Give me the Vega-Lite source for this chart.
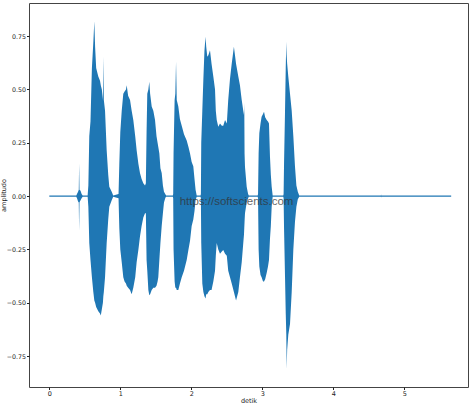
{
"$schema": "https://vega.github.io/schema/vega-lite/v6.json",
"width": 439, "height": 384,
"autosize": {"type": "none"},
"padding": {"left": 29, "top": 3, "right": 6, "bottom": 19},
"config": {"view": {"stroke": "#444", "strokeWidth": 1}, "font": "DejaVu Sans"},
"layer": [
{
"data": {"values": [
{"t":0,"hi":0.003,"lo":-0.003},{"t":0.38,"hi":0.003,"lo":-0.003},{"t":0.39,"hi":0.01,"lo":-0.01},{"t":0.405,"hi":0.02,"lo":-0.025},{"t":0.415,"hi":0.03,"lo":-0.03},{"t":0.42,"hi":0.153,"lo":-0.16},{"t":0.425,"hi":0.03,"lo":-0.03},{"t":0.44,"hi":0.025,"lo":-0.02},{"t":0.455,"hi":0.01,"lo":-0.01},{"t":0.47,"hi":0.003,"lo":-0.003},
{"t":0.54,"hi":0.003,"lo":-0.003},{"t":0.55,"hi":0.05,"lo":-0.05},{"t":0.563,"hi":0.28,"lo":-0.22},{"t":0.58,"hi":0.35,"lo":-0.30},{"t":0.60,"hi":0.60,"lo":-0.38},{"t":0.62,"hi":0.72,"lo":-0.45},{"t":0.634,"hi":0.82,"lo":-0.49},{"t":0.645,"hi":0.70,"lo":-0.50},{"t":0.66,"hi":0.60,"lo":-0.52},{"t":0.69,"hi":0.56,"lo":-0.54},{"t":0.714,"hi":0.54,"lo":-0.55},{"t":0.725,"hi":0.52,"lo":-0.56},{"t":0.74,"hi":0.50,"lo":-0.53},{"t":0.755,"hi":0.45,"lo":-0.50},{"t":0.761,"hi":0.653,"lo":-0.47},{"t":0.768,"hi":0.45,"lo":-0.45},{"t":0.785,"hi":0.40,"lo":-0.38},{"t":0.808,"hi":0.215,"lo":-0.22},{"t":0.83,"hi":0.10,"lo":-0.11},{"t":0.845,"hi":0.044,"lo":-0.05},{"t":0.879,"hi":0.02,"lo":-0.02},{"t":0.90,"hi":0.003,"lo":-0.003},
{"t":0.975,"hi":0.01,"lo":-0.01},{"t":0.986,"hi":0.15,"lo":-0.15},{"t":1.00,"hi":0.30,"lo":-0.25},{"t":1.02,"hi":0.40,"lo":-0.31},{"t":1.042,"hi":0.48,"lo":-0.38},{"t":1.06,"hi":0.49,"lo":-0.40},{"t":1.08,"hi":0.50,"lo":-0.41},{"t":1.09,"hi":0.52,"lo":-0.42},{"t":1.11,"hi":0.47,"lo":-0.43},{"t":1.137,"hi":0.45,"lo":-0.44},{"t":1.16,"hi":0.40,"lo":-0.46},{"t":1.183,"hi":0.356,"lo":-0.43},{"t":1.21,"hi":0.28,"lo":-0.38},{"t":1.23,"hi":0.215,"lo":-0.31},{"t":1.255,"hi":0.15,"lo":-0.25},{"t":1.277,"hi":0.108,"lo":-0.19},{"t":1.30,"hi":0.08,"lo":-0.14},{"t":1.324,"hi":0.06,"lo":-0.10},{"t":1.348,"hi":0.05,"lo":-0.08},
{"t":1.36,"hi":0.06,"lo":-0.08},{"t":1.37,"hi":0.30,"lo":-0.30},{"t":1.38,"hi":0.48,"lo":-0.35},{"t":1.395,"hi":0.50,"lo":-0.44},{"t":1.408,"hi":0.536,"lo":-0.465},{"t":1.42,"hi":0.48,"lo":-0.46},{"t":1.442,"hi":0.42,"lo":-0.44},{"t":1.465,"hi":0.40,"lo":-0.43},{"t":1.489,"hi":0.356,"lo":-0.43},{"t":1.51,"hi":0.28,"lo":-0.42},{"t":1.525,"hi":0.25,"lo":-0.40},{"t":1.535,"hi":0.23,"lo":-0.38},{"t":1.55,"hi":0.20,"lo":-0.30},{"t":1.565,"hi":0.13,"lo":-0.22},{"t":1.583,"hi":0.108,"lo":-0.14},{"t":1.60,"hi":0.05,"lo":-0.08},{"t":1.615,"hi":0.02,"lo":-0.03},{"t":1.635,"hi":0.008,"lo":-0.008},{"t":1.645,"hi":0.003,"lo":-0.003},
{"t":1.74,"hi":0.003,"lo":-0.003},{"t":1.745,"hi":0.01,"lo":-0.01},{"t":1.75,"hi":0.20,"lo":-0.25},{"t":1.765,"hi":0.45,"lo":-0.40},{"t":1.775,"hi":0.48,"lo":-0.43},{"t":1.785,"hi":0.63,"lo":-0.43},{"t":1.795,"hi":0.45,"lo":-0.44},{"t":1.817,"hi":0.42,"lo":-0.44},{"t":1.84,"hi":0.36,"lo":-0.41},{"t":1.865,"hi":0.33,"lo":-0.38},{"t":1.897,"hi":0.29,"lo":-0.35},{"t":1.935,"hi":0.26,"lo":-0.30},{"t":1.96,"hi":0.23,"lo":-0.25},{"t":1.982,"hi":0.20,"lo":-0.21},{"t":2.005,"hi":0.16,"lo":-0.14},{"t":2.028,"hi":0.14,"lo":-0.11},{"t":2.045,"hi":0.08,"lo":-0.07},{"t":2.06,"hi":0.03,"lo":-0.02},{"t":2.076,"hi":0.003,"lo":-0.003},
{"t":2.13,"hi":0.003,"lo":-0.003},{"t":2.135,"hi":0.01,"lo":-0.01},{"t":2.14,"hi":0.25,"lo":-0.22},{"t":2.155,"hi":0.40,"lo":-0.41},{"t":2.17,"hi":0.55,"lo":-0.45},{"t":2.185,"hi":0.68,"lo":-0.47},{"t":2.20,"hi":0.747,"lo":-0.48},{"t":2.21,"hi":0.70,"lo":-0.46},{"t":2.225,"hi":0.653,"lo":-0.46},{"t":2.24,"hi":0.66,"lo":-0.45},{"t":2.263,"hi":0.684,"lo":-0.44},{"t":2.285,"hi":0.62,"lo":-0.44},{"t":2.31,"hi":0.56,"lo":-0.40},{"t":2.334,"hi":0.50,"lo":-0.35},{"t":2.345,"hi":0.40,"lo":-0.28},{"t":2.358,"hi":0.356,"lo":-0.22},{"t":2.38,"hi":0.325,"lo":-0.25},{"t":2.404,"hi":0.34,"lo":-0.27},{"t":2.43,"hi":0.33,"lo":-0.26},{"t":2.45,"hi":0.33,"lo":-0.253},{"t":2.475,"hi":0.356,"lo":-0.27},{"t":2.5,"hi":0.34,"lo":-0.28},{"t":2.52,"hi":0.45,"lo":-0.35},{"t":2.545,"hi":0.55,"lo":-0.38},{"t":2.569,"hi":0.62,"lo":-0.41},{"t":2.60,"hi":0.70,"lo":-0.45},{"t":2.63,"hi":0.62,"lo":-0.49},{"t":2.662,"hi":0.56,"lo":-0.45},{"t":2.685,"hi":0.52,"lo":-0.38},{"t":2.71,"hi":0.45,"lo":-0.31},{"t":2.732,"hi":0.40,"lo":-0.22},{"t":2.742,"hi":0.38,"lo":-0.18},{"t":2.746,"hi":0.436,"lo":-0.15},{"t":2.75,"hi":0.20,"lo":-0.12},{"t":2.756,"hi":0.137,"lo":-0.08},{"t":2.78,"hi":0.044,"lo":-0.03},{"t":2.80,"hi":0.01,"lo":-0.01},{"t":2.81,"hi":0.003,"lo":-0.003},
{"t":2.935,"hi":0.003,"lo":-0.003},{"t":2.94,"hi":0.01,"lo":-0.01},{"t":2.948,"hi":0.20,"lo":-0.25},{"t":2.958,"hi":0.295,"lo":-0.33},{"t":2.975,"hi":0.34,"lo":-0.37},{"t":2.99,"hi":0.372,"lo":-0.38},{"t":3.01,"hi":0.385,"lo":-0.40},{"t":3.024,"hi":0.395,"lo":-0.40},{"t":3.04,"hi":0.37,"lo":-0.39},{"t":3.062,"hi":0.356,"lo":-0.36},{"t":3.08,"hi":0.35,"lo":-0.33},{"t":3.094,"hi":0.34,"lo":-0.30},{"t":3.108,"hi":0.184,"lo":-0.20},{"t":3.12,"hi":0.10,"lo":-0.14},{"t":3.132,"hi":0.044,"lo":-0.05},{"t":3.146,"hi":0.003,"lo":-0.003},
{"t":3.295,"hi":0.003,"lo":-0.003},{"t":3.30,"hi":0.01,"lo":-0.01},{"t":3.306,"hi":0.15,"lo":-0.15},{"t":3.32,"hi":0.40,"lo":-0.38},{"t":3.33,"hi":0.60,"lo":-0.55},{"t":3.338,"hi":0.723,"lo":-0.65},{"t":3.343,"hi":0.66,"lo":-0.81},{"t":3.35,"hi":0.62,"lo":-0.72},{"t":3.366,"hi":0.56,"lo":-0.65},{"t":3.39,"hi":0.48,"lo":-0.60},{"t":3.414,"hi":0.40,"lo":-0.45},{"t":3.437,"hi":0.28,"lo":-0.25},{"t":3.46,"hi":0.14,"lo":-0.12},{"t":3.48,"hi":0.05,"lo":-0.05},{"t":3.50,"hi":0.02,"lo":-0.015},{"t":3.52,"hi":0.003,"lo":-0.003},
{"t":4.67,"hi":0.003,"lo":-0.003},{"t":4.672,"hi":0.008,"lo":-0.008},{"t":4.675,"hi":0.003,"lo":-0.003},{"t":5.66,"hi":0.003,"lo":-0.003}
]},
"mark": {"type": "area", "color": "#1f77b4", "opacity": 1},
"encoding": {
"x": {"field": "t", "type": "quantitative", "scale": {"domain": [-0.286, 5.897], "nice": false, "zero": false},
"axis": {"title": "detik", "values": [0,1,2,3,4,5], "format": "d", "grid": false, "domain": false, "tickSize": 2.5, "tickColor": "#222", "labelFontSize": 6.5, "labelColor": "#222", "labelPadding": 1, "labelFont": "DejaVu Sans", "titleFont": "DejaVu Sans", "titleFontSize": 6.5, "titleFontWeight": "normal", "titleColor": "#222", "titlePadding": 0}},
"y": {"field": "hi", "type": "quantitative", "scale": {"domain": [-0.895, 0.905], "nice": false, "zero": false},
"axis": {"title": "amplitudo", "values": [-0.75,-0.5,-0.25,0,0.25,0.5,0.75], "format": ".2f", "grid": false, "domain": false, "tickSize": 2.5, "tickColor": "#222", "labelFontSize": 6.3, "labelColor": "#222", "labelPadding": 1, "labelFont": "DejaVu Sans", "titleFont": "DejaVu Sans", "titleFontSize": 6.5, "titleFontWeight": "normal", "titleColor": "#222", "titlePadding": 0}},
"y2": {"field": "lo"}
}
},
{
"data": {"values": [{"t": 2.637, "a": -0.027, "label": "https://softscients.com"}]},
"mark": {"type": "text", "font": "Liberation Sans", "fontSize": 11.5, "color": "#333", "opacity": 0.75, "align": "center", "baseline": "middle"},
"encoding": {
"x": {"field": "t", "type": "quantitative"},
"y": {"field": "a", "type": "quantitative"},
"text": {"field": "label"}
}
}
]
}
